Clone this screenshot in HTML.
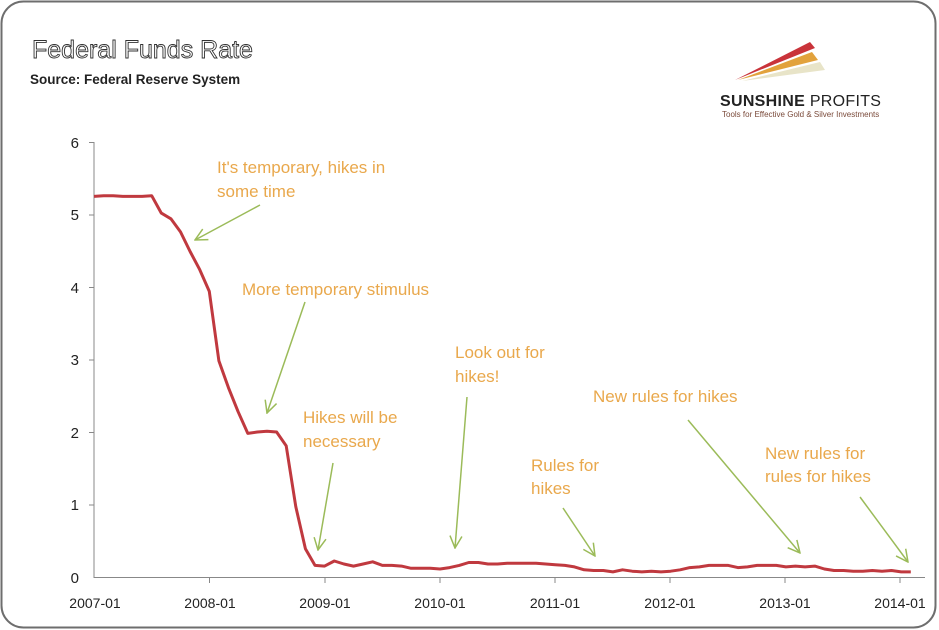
<!DOCTYPE html>
<html><head><meta charset="utf-8"><style>
html,body{margin:0;padding:0;background:#fff;}
svg{display:block;font-family:"Liberation Sans",sans-serif;}
</style></head><body>
<svg width="939" height="630" viewBox="0 0 939 630" xmlns="http://www.w3.org/2000/svg">
<defs>
<marker id="ah" viewBox="0 0 14 14" refX="13" refY="7" markerWidth="14" markerHeight="14" markerUnits="userSpaceOnUse" orient="auto">
<polyline points="1,1 13,7 1,13" fill="none" stroke="#9bbb59" stroke-width="1.5"/>
</marker>
</defs>
<rect x="1.5" y="1.5" width="934" height="626" rx="22" fill="#fff" stroke="#6e6e6e" stroke-width="2"/>
<text x="32" y="58" font-size="25" fill="#fff" stroke="#333" stroke-width="0.9">Federal Funds Rate</text>
<text x="30" y="84" font-size="13.5" font-weight="bold" fill="#222">Source: Federal Reserve System</text>
<polygon points="735,80 810,42 815,48" fill="#c9333a"/>
<polygon points="738,80 812,52 818,60" fill="#e2a23c"/>
<polygon points="742,81 820,62 825,70" fill="#e8e4c8"/>
<text x="720" y="106" font-size="16" font-weight="bold" fill="#222" letter-spacing="0.3">SUNSHINE <tspan font-weight="normal">PROFITS</tspan></text>
<text x="722" y="117" font-size="8" fill="#7a4a3a">Tools for Effective Gold &amp; Silver Investments</text>
<g stroke="#888" stroke-width="1">
<line x1="94" y1="142" x2="94" y2="578"/>
<line x1="94" y1="577.5" x2="925" y2="577.5"/>
<line x1="89" y1="142.5" x2="94" y2="142.5"/><line x1="89" y1="215" x2="94" y2="215"/><line x1="89" y1="287.5" x2="94" y2="287.5"/><line x1="89" y1="360" x2="94" y2="360"/><line x1="89" y1="432.5" x2="94" y2="432.5"/><line x1="89" y1="505" x2="94" y2="505"/>
<line x1="209.5" y1="577" x2="209.5" y2="583"/><line x1="325" y1="577" x2="325" y2="583"/><line x1="440" y1="577" x2="440" y2="583"/><line x1="555" y1="577" x2="555" y2="583"/><line x1="670" y1="577" x2="670" y2="583"/><line x1="785" y1="577" x2="785" y2="583"/><line x1="900" y1="577" x2="900" y2="583"/>
</g>
<g font-size="15" fill="#222" text-anchor="end">
<text x="79" y="148">6</text><text x="79" y="220">5</text><text x="79" y="293">4</text><text x="79" y="365">3</text><text x="79" y="438">2</text><text x="79" y="510">1</text><text x="79" y="583">0</text>
</g>
<g font-size="14" fill="#222" text-anchor="middle">
<text x="95" y="608">2007-01</text><text x="210" y="608">2008-01</text><text x="325" y="608">2009-01</text><text x="440" y="608">2010-01</text><text x="555" y="608">2011-01</text><text x="670" y="608">2012-01</text><text x="785" y="608">2013-01</text><text x="900" y="608">2014-01</text>
</g>
<polyline id="ln" fill="none" stroke="#c0393f" stroke-width="3" stroke-linejoin="round" points=""/>
<g font-size="17" fill="#e9a84c">
<text x="217" y="173">It's temporary, hikes in</text><text x="217" y="197">some time</text>
<text x="242" y="295">More temporary stimulus</text>
<text x="303" y="423">Hikes will be</text><text x="303" y="447">necessary</text>
<text x="455" y="358">Look out for</text><text x="455" y="382">hikes!</text>
<text x="531" y="471">Rules for</text><text x="531" y="494">hikes</text>
<text x="593" y="402">New rules for hikes</text>
<text x="765" y="459">New rules for</text><text x="765" y="482">rules for hikes</text>
</g>
<g stroke="#9bbb59" stroke-width="1.5" fill="none" marker-end="url(#ah)">
<line x1="260" y1="205" x2="195" y2="240" marker-end="url(#ah)"/>
<line x1="305" y1="302" x2="267" y2="413" marker-end="url(#ah)"/>
<line x1="333" y1="463" x2="318" y2="550" marker-end="url(#ah)"/>
<line x1="467" y1="397" x2="455" y2="548" marker-end="url(#ah)"/>
<line x1="563" y1="508" x2="595" y2="556" marker-end="url(#ah)"/>
<line x1="688" y1="420" x2="800" y2="553" marker-end="url(#ah)"/>
<line x1="860" y1="497" x2="908" y2="562" marker-end="url(#ah)"/>
</g>
<script>
var d=[5.25,5.26,5.26,5.25,5.25,5.25,5.26,5.02,4.94,4.76,4.49,4.24,3.94,2.98,2.61,2.28,1.98,2.00,2.01,2.00,1.81,0.97,0.39,0.16,0.15,0.22,0.18,0.15,0.18,0.21,0.16,0.16,0.15,0.12,0.12,0.12,0.11,0.13,0.16,0.20,0.20,0.18,0.18,0.19,0.19,0.19,0.19,0.18,0.17,0.16,0.14,0.10,0.09,0.09,0.07,0.10,0.08,0.07,0.08,0.07,0.08,0.10,0.13,0.14,0.16,0.16,0.16,0.13,0.14,0.16,0.16,0.16,0.14,0.15,0.14,0.15,0.11,0.09,0.09,0.08,0.08,0.09,0.08,0.09,0.07,0.07];
var p=d.map(function(v,i){return (94+i*9.61).toFixed(1)+","+(577-v*72.5).toFixed(1);}).join(" ");
document.getElementById("ln").setAttribute("points",p);
</script>
</svg>
</body></html>
